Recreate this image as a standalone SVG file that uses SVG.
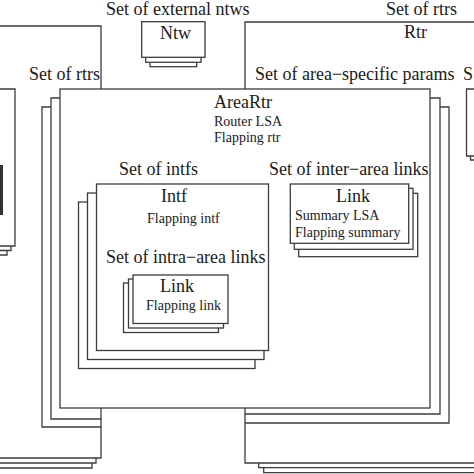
<svg xmlns="http://www.w3.org/2000/svg" width="474" height="474" viewBox="0 0 474 474">
<style>
.ln{fill:none;stroke:#3c3c3c;stroke-width:1.3}
.bx{fill:#fff;stroke:#3c3c3c;stroke-width:1.3}
text{font-family:"Liberation Serif","Times New Roman",serif;fill:#1a1a1a}
.l{font-size:18px}
.s{font-size:14px}
</style>
<rect width="474" height="474" fill="#fff"/>
<g id="labels-top">
<text class="l" x="106" y="15">Set of external ntws</text>
<text class="l" x="386" y="15">Set of rtrs</text>
<text class="l" x="29" y="80">Set of rtrs</text>
</g>
<g id="rtr-left">
<path class="ln" d="M0,26 H101 V458 H0"/>
<path class="ln" d="M96,458 V463 H0"/>
<path class="ln" d="M92,463 V468 H0"/>
</g>
<g id="left-inner">
<path class="ln" d="M0,89 H15 V246 H0"/>
<path class="ln" d="M11,246 V250.5 H0"/>
<path class="ln" d="M7,250.5 V255 H0"/>
<rect x="0" y="165" width="3" height="50" fill="#333"/>
</g>
<g id="ntw">
<rect class="bx" x="150" y="30" width="46.7" height="36.7"/>
<rect class="bx" x="145.7" y="26" width="55.3" height="36.3"/>
<rect class="bx" x="141.7" y="21.7" width="63.3" height="35.6"/>
<text class="l" x="160" y="39">Ntw</text>
</g>
<g id="rtr">
<path class="ln" d="M474,22 H245 V463 H474"/>
<path class="ln" d="M258.7,463 V467.7 H474"/>
<path class="ln" d="M263.7,467.7 V472.7 H474"/>
<text class="l" x="404" y="38">Rtr</text>
<text class="l" x="255" y="80">Set of area−specific params</text>
<text class="l" x="463" y="80">S</text>
</g>
<g id="right-partial">
<path class="ln" d="M474,89 H466.5 V156 H474"/>
<path class="ln" d="M470.5,156 V160 H474"/>
</g>
<g id="areartr">
<path class="ln" d="M101,427 H42 V107 H51"/>
<path class="ln" d="M101,419 H51 V98 H60"/>
<path class="ln" d="M440,107 H449 V423 H245"/>
<path class="ln" d="M430,98 H440 V414 H245"/>
<rect class="bx" x="60" y="89" width="370" height="319"/>
<text class="l" x="214" y="108">AreaRtr</text>
<text class="s" x="214" y="126">Router LSA</text>
<text class="s" x="214" y="142">Flapping rtr</text>
<text class="l" x="119" y="175">Set of intfs</text>
<text class="l" x="269" y="175">Set of inter−area links</text>
</g>
<g id="intf">
<rect class="bx" x="78.5" y="202" width="176.5" height="166.5"/>
<rect class="bx" x="87.5" y="193" width="176.5" height="166.5"/>
<rect class="bx" x="96.5" y="184" width="172" height="166.5"/>
<text class="l" x="161" y="202">Intf</text>
<text class="s" x="147" y="223">Flapping intf</text>
<text class="l" x="106" y="263">Set of intra−area links</text>
</g>
<g id="intra-link">
<rect class="bx" x="123.5" y="283" width="95" height="49.5"/>
<rect class="bx" x="128.5" y="279" width="95" height="49"/>
<rect class="bx" x="133" y="275" width="95" height="48.5"/>
<text class="l" x="160" y="292">Link</text>
<text class="s" x="146" y="310">Flapping link</text>
</g>
<g id="inter-link">
<rect class="bx" x="298.7" y="193.3" width="119" height="63.4"/>
<rect class="bx" x="294.3" y="188.3" width="118.7" height="61"/>
<rect class="bx" x="290.3" y="184" width="118.4" height="59.3"/>
<text class="l" x="336" y="202">Link</text>
<text class="s" x="295" y="220">Summary LSA</text>
<text class="s" x="295" y="237">Flapping summary</text>
</g>
<g id="connectors"></g>
</svg>
